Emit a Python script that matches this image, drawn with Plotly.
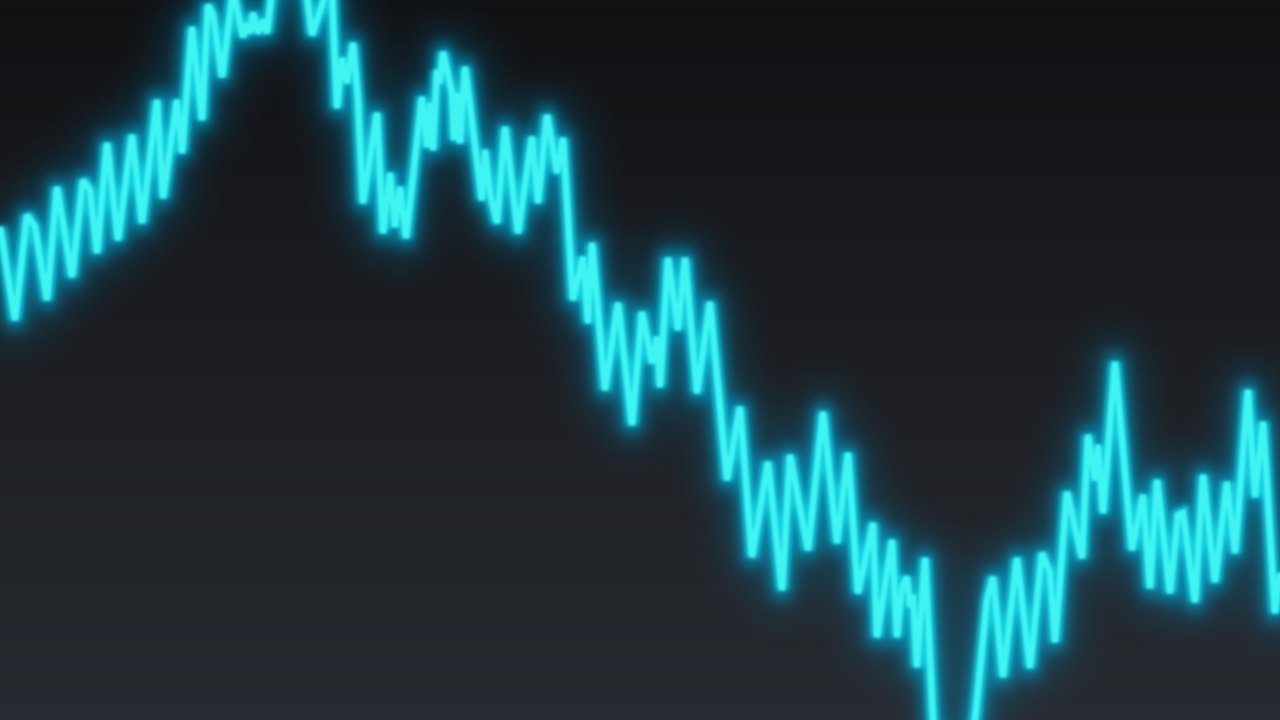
import plotly.graph_objects as go

# time index (horizontal position) and value of the signal
t = [0, 15, 27, 35, 47, 57, 72, 83, 90, 97,
     107, 118, 132, 142, 157, 163, 177, 182, 192, 202,
     208, 213, 222, 233, 243, 247, 250, 253, 258, 263,
     267, 272, 285, 298, 307, 312, 320, 327, 332, 337,
     342, 347, 353, 358, 363, 377, 383, 390, 395, 400,
     406, 415, 422, 427, 430, 433, 437, 440, 443, 452,
     454, 457, 460, 465, 482, 485, 490, 497, 505, 518,
     532, 538, 547, 557, 563, 573, 583, 588, 592, 605,
     618, 632, 642, 652, 657, 660, 668, 678, 685, 697,
     710, 727, 740, 752, 760, 768, 782, 790, 808, 823,
     837, 848, 858, 873, 877, 892, 897, 902, 907, 910,
     913, 917, 925, 933, 955, 975, 987, 993, 1003, 1017,
     1030, 1042, 1050, 1055, 1067, 1082, 1088, 1095, 1098, 1103,
     1115, 1132, 1143, 1150, 1157, 1170, 1178, 1183, 1195, 1203,
     1215, 1227, 1235, 1248, 1255, 1263, 1275, 1280]

values = [493, 400, 505, 493, 420, 533, 443, 540, 530, 467,
          577, 480, 585, 497, 620, 522, 620, 567, 693, 600,
          715, 705, 643, 730, 683, 697, 687, 707, 687, 700,
          687, 730, 765, 740, 725, 685, 707, 730, 725, 612,
          662, 637, 677, 620, 517, 607, 487, 547, 493, 533,
          482, 560, 623, 573, 617, 570, 650, 637, 668, 627,
          580, 627, 577, 653, 520, 570, 527, 497, 593, 487,
          583, 517, 605, 547, 582, 420, 463, 397, 477, 330,
          417, 295, 408, 357, 383, 333, 462, 390, 462, 327,
          418, 240, 313, 163, 207, 258, 130, 265, 170, 308,
          177, 267, 127, 197, 83, 180, 83, 133, 143, 113,
          125, 53, 162, 0, -70, 0, 120, 143, 43, 162,
          52, 167, 147, 78, 228, 162, 285, 240, 275, 207,
          358, 170, 225, 132, 240, 127, 205, 207, 118, 245,
          138, 238, 167, 330, 223, 298, 107, 147]

n = min(len(t), len(values))
t = t[:n]
values = values[:n]

x_range = [0, 1280]
y_range = [0, 720]

fig = go.Figure()

# vertical background gradient
fig.add_trace(go.Heatmap(
    x=x_range, y=y_range, z=[[0, 0], [1, 1]],
    zsmooth="best", showscale=False, hoverinfo="skip",
    colorscale=[[0, "#272a30"], [0.5, "#1c1e22"], [1, "#101113"]],
))

# glow layers (outer haze -> core); blur applied in the page script below
glow = [(50, "rgba(0,130,180,0.30)"),
        (22, "rgba(0,175,220,0.55)"),
        (12, "rgba(25,228,240,0.80)"),
        (6, "#40f4f2")]
for w, c in glow:
    fig.add_trace(go.Scatter(
        x=t, y=values, mode="lines", hoverinfo="skip",
        line=dict(color=c, width=w, shape="linear"),
        showlegend=False,
    ))

fig.update_layout(
    width=1280, height=720,
    margin=dict(l=0, r=0, t=0, b=0),
    paper_bgcolor="#16171a", plot_bgcolor="#16171a",
    xaxis=dict(range=x_range, visible=False, fixedrange=True),
    yaxis=dict(range=y_range, visible=False, fixedrange=True),
    showlegend=False,
)

post = """
document.body.style.margin='0';
document.body.style.overflow='hidden';
var gd=document.getElementById('{plot_id}');
var svg=gd.querySelector('svg.main-svg');
var ns='http://www.w3.org/2000/svg';
var defs=svg.querySelector('defs');
if(!defs){defs=document.createElementNS(ns,'defs');svg.insertBefore(defs,svg.firstChild);}
var blurs=[18,7,2.5,0.8];
blurs.forEach(function(s,i){
  var f=document.createElementNS(ns,'filter');
  f.setAttribute('id','glowf'+i);
  f.setAttribute('filterUnits','userSpaceOnUse');
  f.setAttribute('x','-200');f.setAttribute('y','-200');
  f.setAttribute('width','1700');f.setAttribute('height','1200');
  var g=document.createElementNS(ns,'feGaussianBlur');
  g.setAttribute('stdDeviation',String(s));
  f.appendChild(g);defs.appendChild(f);
});
var tr=svg.querySelectorAll('.scatterlayer .trace');
tr.forEach(function(t,i){
  var p=t.querySelector('path.js-line');
  if(p&&i<blurs.length){p.setAttribute('filter','url(#glowf'+i+')');
    if(i<2){p.style.strokeLinejoin='round';}}
});
"""

fig.write_html("out.html", config={"displayModeBar": False}, post_script=post)
